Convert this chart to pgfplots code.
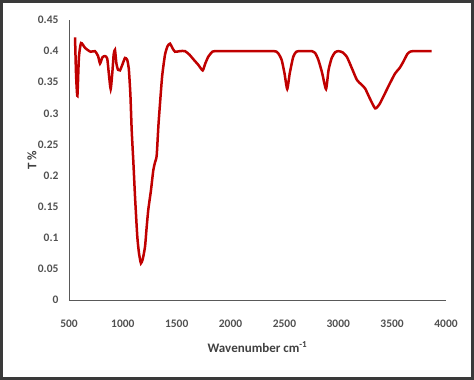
\documentclass[border=0pt]{standalone}
\usepackage{pgfplots}
\pgfplotsset{compat=1.18}
\usepackage{fontspec}
\setmainfont{Carlito}
\definecolor{linered}{HTML}{C00000}
\definecolor{ticktext}{HTML}{505050}
\definecolor{labtext}{HTML}{404040}
\definecolor{axgray}{HTML}{595959}
\definecolor{framegray}{HTML}{3A3A3A}
\begin{document}
\begin{tikzpicture}[x=1pt,y=1pt]
\begin{axis}[
  at={(0,0)}, anchor=south west,
  scale only axis, width=377pt, height=280pt,
  xmin=500, xmax=4000, ymin=0, ymax=0.45,
  axis x line=bottom, axis y line=left,
  axis line style={-, axgray, line width=0.8pt},
  xtick={500,1000,...,4000},
  ytick={0,0.05,...,0.451},
  major tick length=0pt,
  /pgf/number format/assume math mode=true,
  /pgf/number format/1000 sep={},
  yticklabel style={/pgf/number format/fixed, /pgf/number format/precision=2, font=\fontsize{11.5}{13}\selectfont\bfseries, text=ticktext, xshift=-7pt},
  xticklabel style={font=\fontsize{11.5}{13}\selectfont\bfseries, text=ticktext, yshift=-16pt},
  xlabel={Wavenumber cm\textsuperscript{-1}},
  ylabel={T \%},
  xlabel style={font=\fontsize{13}{15}\selectfont\bfseries, text=labtext, at={(axis description cs:0.5,0)}, anchor=center, yshift=-47pt},
  ylabel style={font=\fontsize{13}{15}\selectfont\bfseries, text=labtext, at={(axis description cs:0,0.5)}, anchor=center, yshift=37pt},
  clip=false,
]
\addplot[linered, line width=2.5pt, smooth, tension=0.35] coordinates {
(556,0.422) (566,0.36) (578,0.328) (592,0.39) (612,0.413) (650,0.405)
(700,0.399) (741,0.400) (770,0.392) (788,0.380) (810,0.390) (834,0.392)
(855,0.388) (872,0.360) (887,0.339) (902,0.365) (915,0.395) (927,0.402)
(940,0.380) (955,0.370) (973,0.369) (995,0.378) (1020,0.389) (1040,0.386)
(1055,0.372) (1070,0.330) (1082,0.273) (1098,0.220) (1113,0.166) (1134,0.102)
(1150,0.075) (1168,0.059) (1185,0.066) (1206,0.086) (1220,0.115) (1236,0.145)
(1260,0.175) (1283,0.209) (1300,0.222) (1314,0.232) (1330,0.280) (1345,0.316)
(1365,0.360) (1391,0.394) (1415,0.408) (1438,0.412) (1460,0.405) (1484,0.399)
(1530,0.400) (1577,0.400) (1620,0.394) (1654,0.387) (1700,0.378) (1741,0.369)
(1765,0.380) (1793,0.391) (1825,0.398) (1856,0.400) (2100,0.400) (2397,0.400)
(2440,0.397) (2474,0.386) (2500,0.365) (2526,0.339) (2550,0.365) (2582,0.391)
(2610,0.399) (2644,0.400) (2720,0.400) (2753,0.400) (2785,0.397) (2815,0.386)
(2850,0.365) (2886,0.339) (2910,0.370) (2939,0.389) (2970,0.398) (3001,0.400)
(3040,0.398) (3079,0.391) (3120,0.375) (3172,0.354) (3210,0.347) (3249,0.340)
(3290,0.325) (3342,0.308) (3380,0.314) (3419,0.327) (3470,0.345) (3527,0.364)
(3570,0.373) (3604,0.383) (3640,0.395) (3666,0.399) (3700,0.400) (3867,0.400)
};
\end{axis}
\draw[framegray, line width=3pt] (-69+1.5,-80+1.5) rectangle (405-1.5,300-1.5);
\end{tikzpicture}
\end{document}
